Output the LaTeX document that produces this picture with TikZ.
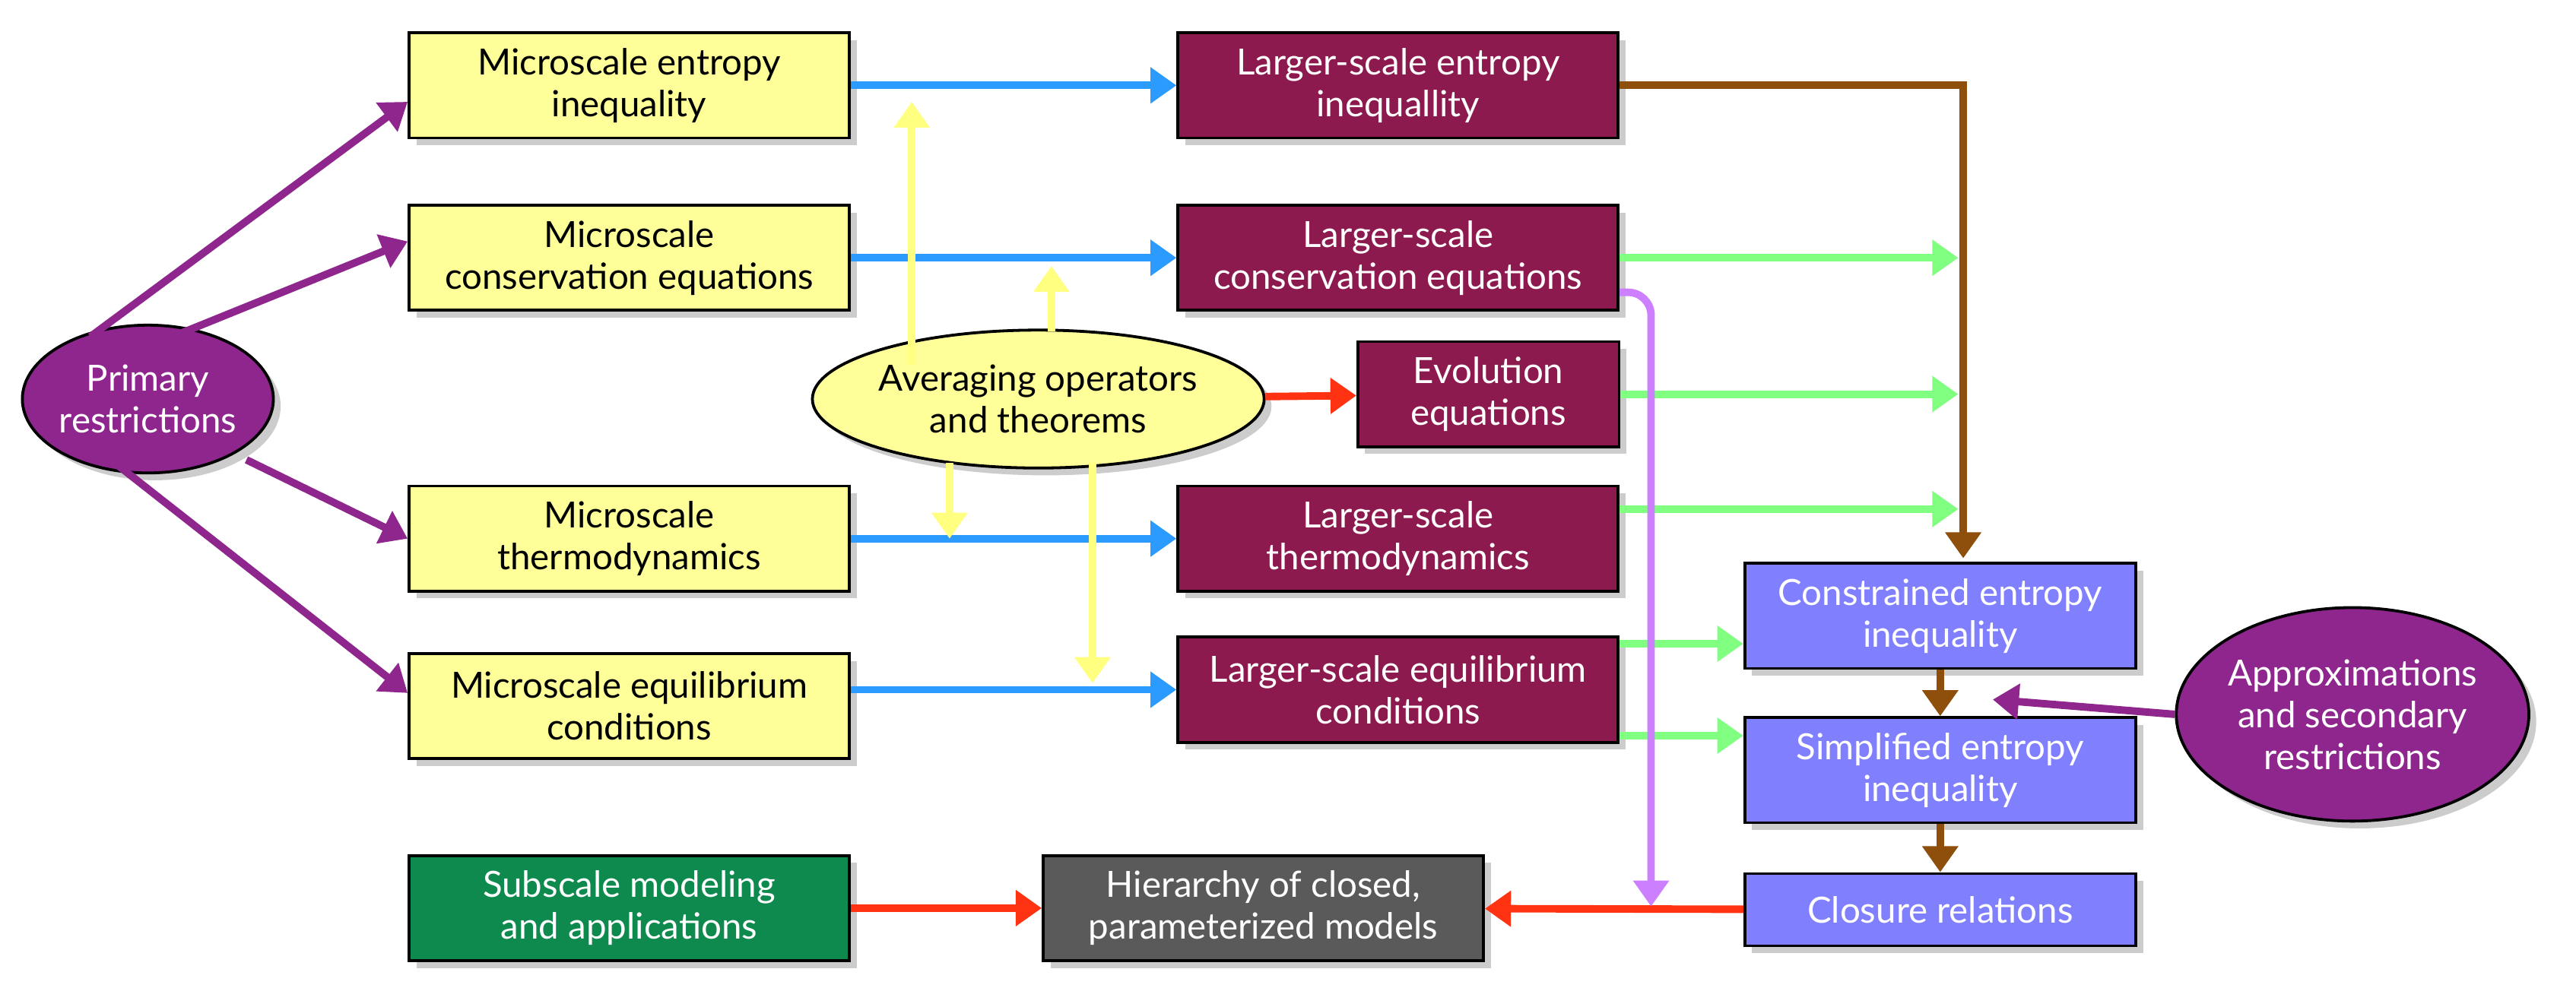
\documentclass[tikz,border=0pt]{standalone}
\usepackage{fontspec}
\setmainfont{Lato}
\usetikzlibrary{arrows.meta,shadows,shapes.geometric}
\definecolor{micro}{HTML}{FFFF99}
\definecolor{larger}{HTML}{8C1A4E}
\definecolor{constr}{HTML}{8080FF}
\definecolor{prim}{HTML}{8E268E}
\definecolor{subsc}{HTML}{0E8A4E}
\definecolor{hier}{HTML}{5A5A5A}
\definecolor{blueflow}{HTML}{2B9BFF}
\definecolor{greenflow}{HTML}{80FF80}
\definecolor{yellowflow}{HTML}{FFFF80}
\definecolor{brownflow}{HTML}{8E4F0C}
\definecolor{lilacflow}{HTML}{CC80FF}
\definecolor{redflow}{HTML}{FF3311}
\tikzset{
  box/.style={draw=black, line width=1pt, minimum width=5.36cm, minimum height=1.28cm,
    align=center, font=\fontsize{12.5}{14.5}\selectfont, drop shadow={opacity=0.4}},
  microbox/.style={box, fill=micro},
  largebox/.style={box, fill=larger, text=white},
  constrbox/.style={box, fill=constr, text=white, minimum width=4.76cm},
  oval/.style={ellipse, draw=black, line width=1pt, align=center,
    font=\fontsize{12.5}{14.5}\selectfont, inner sep=0pt, drop shadow={opacity=0.4}},
  flow/.style={line width=2.6pt, -{Triangle[length=9pt,width=12pt]}},
}
\begin{document}
\begin{tikzpicture}[x=0.2mm,y=-0.2mm]
  \useasboundingbox (0,0) rectangle (1568,613);
  % Microscale boxes
  \node[microbox] (mEnt) at (383,52) {Microscale entropy\\inequality};
  \node[microbox] (mCons) at (383,157) {Microscale\\conservation equations};
  \node[microbox] (mThermo) at (383,328) {Microscale\\thermodynamics};
  \node[microbox] (mEquil) at (383,430) {Microscale equilibrium\\conditions};
  % Larger-scale boxes
  \node[largebox] (lEnt) at (851,52) {Larger-scale entropy\\inequallity};
  \node[largebox] (lCons) at (851,157) {Larger-scale\\conservation equations};
  \node[largebox, minimum width=3.18cm] (evol) at (906,240) {Evolution\\equations};
  \node[largebox] (lThermo) at (851,328) {Larger-scale\\thermodynamics};
  \node[largebox] (lEquil) at (851,420) {Larger-scale equilibrium\\conditions};
  % Constrained boxes
  \node[constrbox] (cEnt) at (1181,375) {Constrained entropy\\inequality};
  \node[constrbox] (sEnt) at (1181,469) {Simplified entropy\\inequality};
  \node[constrbox, minimum height=0.88cm] (closure) at (1181,554) {Closure relations};
  % Bottom row
  \node[box, fill=subsc, text=white] (subscale) at (383,553) {Subscale modeling\\and applications};
  \node[box, fill=hier, text=white] (hierarchy) at (769,553) {Hierarchy of closed,\\parameterized models};
  % Ellipses
  \node[oval, fill=prim, text=white, minimum width=2.9cm, minimum height=1.8cm] (primary) at (90,243) {Primary\\restrictions};
  \node[oval, fill=micro, minimum width=5.5cm, minimum height=1.68cm] (averaging) at (632,243) {Averaging operators\\and theorems};
  \node[oval, fill=prim, text=white, minimum width=3.6cm, minimum height=2.6cm] (approx) at (1432,435) {Approximations\\and secondary\\restrictions};
  % Purple arrows
  \draw[flow, prim] (55,205) -- (mEnt.west |- 0,62);
  \draw[flow, prim] (110,203) -- (mCons.west |- 0,147);
  \draw[flow, prim] (150,280) -- (mThermo.west);
  \draw[flow, prim] (70,282) -- (mEquil.west |- 0,422);
  \draw[flow, prim] (approx.west) -- (1213,426);
  % Blue arrows
  \draw[flow, blueflow] (mEnt) -- (lEnt);
  \draw[flow, blueflow] (mCons) -- (lCons);
  \draw[flow, blueflow] (mThermo) -- (lThermo);
  \draw[flow, blueflow] (mEquil.east |- 0,420) -- (lEquil.west);
  % Yellow arrows
  \draw[flow, yellowflow] (555,222) -- (555,62);
  \draw[flow, yellowflow] (578,282) -- (578,328);
  \draw[flow, yellowflow] (640,202) -- (640,162);
  \draw[flow, yellowflow] (665,282) -- (665,416);
  % Red arrows
  \draw[flow, redflow] (averaging) -- (evol);
  \draw[flow, redflow] (subscale) -- (hierarchy);
  \draw[flow, redflow] (closure) -- (hierarchy);
  % Brown arrows
  \draw[flow, brownflow] (lEnt.east) -| (1195,340);
  \draw[flow, brownflow] (cEnt) -- (sEnt);
  \draw[flow, brownflow] (sEnt) -- (closure);
  % Green arrows
  \draw[flow, greenflow] (lCons.east) -- (1192,157);
  \draw[flow, greenflow] (evol.east) -- (1192,240);
  \draw[flow, greenflow] (lThermo.east |- 0,310) -- (1192,310);
  \draw[flow, greenflow] (lEquil.east |- 0,392) -- (cEnt.west |- 0,392);
  \draw[flow, greenflow] (lEquil.east |- 0,448) -- (sEnt.west |- 0,448);
  % Lilac arrow
  \draw[flow, lilacflow, rounded corners=8pt] (lCons.east |- 0,178) -- (1005,178) -- (1005,552);
\end{tikzpicture}
\end{document}
